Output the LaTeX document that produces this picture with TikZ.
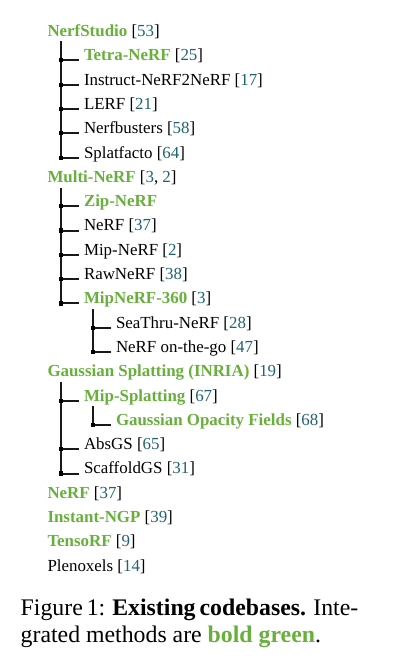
\documentclass[tikz,border=0pt]{standalone}
\usepackage{fontspec}
\setmainfont{Liberation Serif}
\definecolor{intgreen}{RGB}{104,176,60}
\definecolor{citec}{RGB}{32,98,114}
\newcommand{\integ}[1]{{\bfseries\color{intgreen}#1}}
\newcommand{\cit}[1]{[\textcolor{citec}{#1}]}
\tikzset{
  lbl/.style={anchor=base west, inner sep=0pt, outer sep=0pt, font=\fontsize{16.9}{20}\selectfont},
  caplbl/.style={anchor=base west, inner sep=0pt, outer sep=0pt, font=\fontsize{23.8}{27}\selectfont},
  edge/.style={line width=2pt, black!90},
}
\begin{document}
\begin{tikzpicture}[x=1pt,y=-1pt]
\useasboundingbox[fill=white] (0,0) rectangle (403,661);
% level 0
\node[lbl] (ns)  at (47.5,36.5)  {\integ{NerfStudio} \cit{53}};
\node[lbl] (mn)  at (47.5,182.3) {\integ{Multi-NeRF} [\textcolor{citec}{3}, \textcolor{citec}{2}]};
\node[lbl] (gs)  at (47.5,376.7) {\integ{Gaussian Splatting (INRIA)} \cit{19}};
\node[lbl] (nerf0) at (47.5,498.2) {\integ{NeRF} \cit{37}};
\node[lbl] (ingp) at (47.5,522.5) {\integ{Instant-NGP} \cit{39}};
\node[lbl] (tensorf) at (47.5,546.8) {\integ{TensoRF} \cit{9}};
\node[lbl] (pleno) at (47.5,571.1) {Plenoxels \cit{14}};
% level 1
\node[lbl] (tetra) at (84,60.8)  {\integ{Tetra-NeRF} \cit{25}};
\node[lbl] (instr) at (84,85.1)  {Instruct-NeRF2NeRF \cit{17}};
\node[lbl] (lerf)  at (84,109.4) {LERF \cit{21}};
\node[lbl] (nbust) at (84,133.7) {Nerfbusters \cit{58}};
\node[lbl] (splf)  at (84,158.0) {Splatfacto \cit{64}};
\node[lbl] (zip)   at (84,206.6) {\integ{Zip-NeRF}};
\node[lbl] (nerf1) at (84,230.9) {NeRF \cit{37}};
\node[lbl] (mip)   at (84,255.2) {Mip-NeRF \cit{2}};
\node[lbl] (raw)   at (84,279.5) {RawNeRF \cit{38}};
\node[lbl] (m360)  at (84,303.8) {\integ{MipNeRF-360} \cit{3}};
\node[lbl] (mips)  at (84,401.0) {\integ{Mip-Splatting} \cit{67}};
\node[lbl] (absgs) at (84,449.6) {AbsGS \cit{65}};
\node[lbl] (scaf)  at (84,473.9) {ScaffoldGS \cit{31}};
% level 2
\node[lbl] (sea)   at (116,328.1) {SeaThru-NeRF \cit{28}};
\node[lbl] (otg)   at (116,352.4) {NeRF on-the-go \cit{47}};
\node[lbl] (gof)   at (116,425.3) {\integ{Gaussian Opacity Fields} \cit{68}};
% connector tops
\coordinate (vns)  at (61,41.3);
\coordinate (vmn)  at (61,187.5);
\coordinate (vm360) at (93,308.8);
\coordinate (vgs)  at (61,381.7);
\coordinate (vmips) at (93,406.0);
% connectors
\draw[edge] (vns) -- (vns |- splf.base west);
\draw[edge] (vmn) -- (vmn |- m360.base west);
\draw[edge] (vm360) -- (vm360 |- otg.base west);
\draw[edge] (vgs) -- (vgs |- scaf.base west);
\draw[edge] (vmips) -- (vmips |- gof.base west);
\foreach \v/\c in {vns/tetra,vns/instr,vns/lerf,vns/nbust,vns/splf,
                   vmn/zip,vmn/nerf1,vmn/mip,vmn/raw,vmn/m360,
                   vm360/sea,vm360/otg,
                   vgs/mips,vgs/absgs,vgs/scaf,
                   vmips/gof}{
  \draw[edge] ([yshift=0.4pt]\v |- \c.base west) -- ([xshift=-5pt,yshift=0.4pt]\c.base west);
  \fill[black] ([yshift=0.4pt]\v |- \c.base west) +(-2.1pt,-2.1pt) rectangle +(2.1pt,2.1pt);
}
% caption
\node[caplbl] (cap1) at (20.7,615) {\hbox to 337.6pt{Figure 1: \textbf{Existing codebases.} Inte-}};
\node[caplbl] (cap2) at (20.7,642) {grated methods are \textbf{\color{intgreen}bold green}.};
\end{tikzpicture}
\end{document}
